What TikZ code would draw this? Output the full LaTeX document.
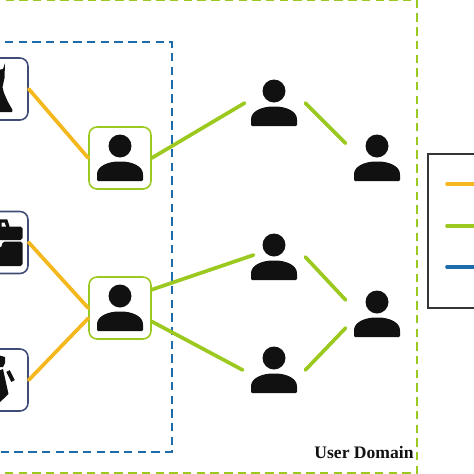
\documentclass[tikz,border=0pt]{standalone}
\usepackage{fontspec}
\setmainfont{Liberation Serif}
\usetikzlibrary{positioning, calc}
\definecolor{Dark}{HTML}{111111}
\definecolor{Edge}{HTML}{3F4C78}
\definecolor{Orange}{HTML}{F4B71E}
\definecolor{Lime}{HTML}{9CC91F}
\definecolor{Ocean}{HTML}{1F6CAA}
\tikzset{
    person/.style={rectangle, rounded corners=0.16cm, minimum size=1.24cm, inner sep=0pt, path picture={
        \begin{scope}[shift={(path picture bounding box.center)}]
            \fill[Dark] (0,-12) circle (11.5);
            \fill[Dark, rounded corners=0.6pt] (-23,23) -- (-23,16) .. controls (-22,8) and (-12,3.5) .. (0,3.5) .. controls (12,3.5) and (22,8) .. (23,16) -- (23,23) -- cycle;
        \end{scope}}},
    userbox/.style={person, draw=Lime, line width=0.9pt},
    itembox/.style={rectangle, rounded corners=0.16cm, minimum size=1.24cm, inner sep=0pt, draw=Edge, line width=0.9pt},
    yellowlink/.style={Orange, line width=2.1pt, line cap=round},
    greenlink/.style={Lime, line width=2.1pt, line cap=round},
    domainline/.style={line width=1.6pt, dash pattern=on 4.8pt off 3pt},
}
\begin{document}
\begin{tikzpicture}[x=0.02cm, y=-0.02cm]
    \useasboundingbox (0,0) rectangle (474,474);

    % Domains
    \draw[domainline, Lime] (-50,473) -- (417,473) -- (417,0) -- (-50,0);
    \draw[domainline, Ocean] (-50,42) -- (172,42) -- (172,452) -- (-50,452);
    \node[font=\bfseries, inner sep=0pt, text=Dark] (title) at (364,452) {User Domain};

    % Items
    \node[itembox] (dress) at (-3,89) {};
    \node[itembox] (case) at (-3,242.5) {};
    \node[itembox] (tie) at (-3,380) {};
    \fill[Dark] (-2,70) -- (3,69) -- (5,63) -- (4.5,78) -- (2.5,87) -- (4,93) -- (8,102) -- (12.5,110) -- (12,112) -- (-2,112) -- cycle;
    \fill[Dark, rounded corners=1pt] (-2,226.5) -- (22.5,226.5) -- (22.5,240) -- (-2,240) -- cycle;
    \fill[Dark, rounded corners=1pt] (3,241.5) -- (22.5,241.5) -- (22.5,266) -- (-2,266) -- (-2,248) -- (1,248) -- cycle;
    \draw[Dark, line width=1.9pt] (0,227) -- (0,221) -- (6,221) -- (8,227);
    \fill[Dark] (-2,355) -- (5,357) -- (5,363) -- (3,367) -- (-2,367) -- cycle;
    \fill[Dark] (-2,371) -- (3,369) -- (8.5,394) -- (-2,404) -- cycle;
    \draw[Dark, line width=2.2pt] (8,371) -- (13,381);

    % Users
    \node[userbox] (u1) at (120,158) {};
    \node[userbox] (u2) at (120,308) {};
    \node[person] (p1) at (274,103) {};
    \node[person] (p2) at (377,158) {};
    \node[person] (p3) at (274,257) {};
    \node[person] (p4) at (274,370) {};
    \node[person] (p5) at (377,314) {};

    % Links
    \draw[yellowlink] (dress.east) -- (u1.west);
    \draw[yellowlink] (case.east) -- (u2.west);
    \draw[yellowlink] (tie.east) -- (u2.198);
    \draw[greenlink] (u1.east) -- ($(p1.west)+(2,0)$);
    \draw[greenlink] (p1.east) -- (p2.155);
    \draw[greenlink] (u2.30) -- ($(p3.west)+(11,-2)$);
    \draw[greenlink] (u2.-23) -- (p4.west);
    \draw[greenlink] (p3.east) -- (p5.156);
    \draw[greenlink] (p4.east) -- (p5.204);

    % Legend
    \draw[Dark!85, line width=0.9pt] (520,154) -- (428,154) -- (428,308) -- (520,308);
    \coordinate (k1a) at (447,184);
    \coordinate (k1b) at (500,184);
    \coordinate (k2a) at (447,226);
    \coordinate (k2b) at (500,226);
    \coordinate (k3a) at (447,267);
    \coordinate (k3b) at (500,267);
    \draw[yellowlink] (k1a) -- (k1b);
    \draw[greenlink] (k2a) -- (k2b);
    \draw[Ocean, line width=2.1pt, line cap=round] (k3a) -- (k3b);
\end{tikzpicture}
\end{document}
